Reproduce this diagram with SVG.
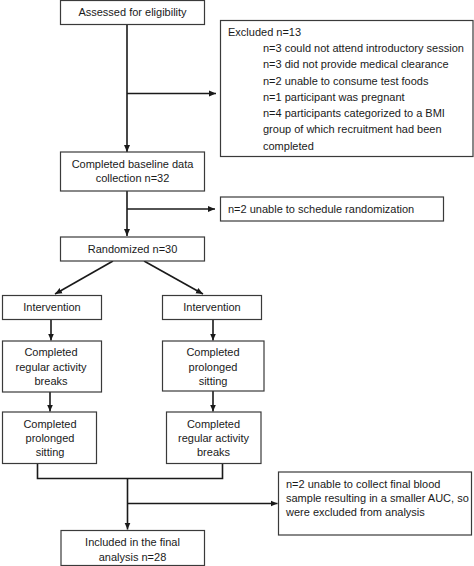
<svg xmlns="http://www.w3.org/2000/svg" width="474" height="566" viewBox="0 0 474 566">
<style>
.box{fill:#fff;stroke:#3a3a3a;stroke-width:1.2}
.t{font-family:"Liberation Sans",Arial,sans-serif;font-size:11px;fill:#1a1a1a}
.c{text-anchor:middle}
.ln{fill:none;stroke:#1a1a1a;stroke-width:1.6}
</style>
<defs>
<marker id="ah" markerWidth="8" markerHeight="8" refX="7" refY="4" orient="auto" markerUnits="userSpaceOnUse">
<path d="M0,1 L7,4 L0,7 Z" fill="#1a1a1a"/>
</marker>
</defs>
<rect width="474" height="566" fill="#fff"/>
<g id="connectors">
<path class="ln" d="M127,24 V152" marker-end="url(#ah)"/>
<path class="ln" d="M127,93.5 H216" marker-end="url(#ah)"/>
<path class="ln" d="M127,191 V236" marker-end="url(#ah)"/>
<path class="ln" d="M127,209 H215" marker-end="url(#ah)"/>
<path class="ln" d="M113,261 L55,294" marker-end="url(#ah)"/>
<path class="ln" d="M144,261 L203,294" marker-end="url(#ah)"/>
<path class="ln" d="M51,319.5 V340.5" marker-end="url(#ah)"/>
<path class="ln" d="M213,319.5 V340.5" marker-end="url(#ah)"/>
<path class="ln" d="M50,391.5 V411.5" marker-end="url(#ah)"/>
<path class="ln" d="M213,391 V411.5" marker-end="url(#ah)"/>
<path class="ln" d="M37.5,463.5 V478.5 H222.5 V463.5"/>
<path class="ln" d="M127.5,478.5 V529.5" marker-end="url(#ah)"/>
<path class="ln" d="M127.5,503.5 H277.5" marker-end="url(#ah)"/>
</g>
<g id="assessed">
<rect class="box" x="60.5" y="0.5" width="144" height="24"/>
<text class="t c" x="132.5" y="16">Assessed for eligibility</text>
</g>
<g id="excluded">
<rect class="box" x="220.5" y="20.5" width="252.5" height="136"/>
<text class="t" x="228" y="36">Excluded n=13</text>
<text class="t" x="263" y="52">n=3 could not attend introductory session</text>
<text class="t" x="263" y="68">n=3 did not provide medical clearance</text>
<text class="t" x="263" y="84.5">n=2 unable to consume test foods</text>
<text class="t" x="263" y="101">n=1 participant was pregnant</text>
<text class="t" x="263" y="117">n=4 participants categorized to a BMI</text>
<text class="t" x="263" y="133">group of which recruitment had been</text>
<text class="t" x="263" y="149.5">completed</text>
</g>
<g id="baseline">
<rect class="box" x="60.5" y="152" width="144" height="39"/>
<text class="t c" x="132.5" y="167.5">Completed baseline data</text>
<text class="t c" x="132.5" y="181.5">collection n=32</text>
</g>
<g id="unable-schedule">
<rect class="box" x="220.5" y="197" width="223" height="24"/>
<text class="t" x="228" y="213">n=2 unable to schedule randomization</text>
</g>
<g id="randomized">
<rect class="box" x="60.5" y="237" width="144" height="24"/>
<text class="t c" x="132.5" y="252.5">Randomized n=30</text>
</g>
<g id="intervention-left">
<rect class="box" x="2.5" y="295.5" width="99" height="24"/>
<text class="t c" x="52" y="311">Intervention</text>
</g>
<g id="intervention-right">
<rect class="box" x="162.5" y="295.5" width="99" height="24"/>
<text class="t c" x="212" y="311">Intervention</text>
</g>
<g id="left-breaks">
<rect class="box" x="2.5" y="341" width="99" height="51"/>
<text class="t c" x="51" y="356">Completed</text>
<text class="t c" x="51" y="370.5">regular activity</text>
<text class="t c" x="51" y="384.5">breaks</text>
</g>
<g id="right-sitting">
<rect class="box" x="162.5" y="341" width="101.5" height="50"/>
<text class="t c" x="213" y="356">Completed</text>
<text class="t c" x="213" y="370.5">prolonged</text>
<text class="t c" x="213" y="384.5">sitting</text>
</g>
<g id="left-sitting">
<rect class="box" x="2.5" y="412" width="94" height="51.5"/>
<text class="t c" x="50" y="427.5">Completed</text>
<text class="t c" x="50" y="442">prolonged</text>
<text class="t c" x="50" y="456">sitting</text>
</g>
<g id="right-breaks">
<rect class="box" x="166.5" y="412" width="94.5" height="51.5"/>
<text class="t c" x="213.5" y="427.5">Completed</text>
<text class="t c" x="213.5" y="442">regular activity</text>
<text class="t c" x="213.5" y="456">breaks</text>
</g>
<g id="blood-excluded">
<rect class="box" x="278.5" y="472" width="193" height="63"/>
<text class="t" x="286" y="488">n=2 unable to collect final blood</text>
<text class="t" x="286" y="502">sample resulting in a smaller AUC, so</text>
<text class="t" x="286" y="516">were excluded from analysis</text>
</g>
<g id="final">
<rect class="box" x="61" y="530.5" width="143.5" height="35"/>
<text class="t c" x="132.5" y="546">Included in the final</text>
<text class="t c" x="132.5" y="560.5">analysis n=28</text>
</g>
</svg>
